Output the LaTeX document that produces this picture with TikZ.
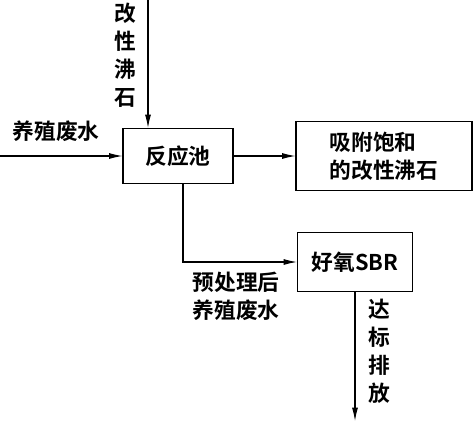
\documentclass[tikz,border=0pt]{standalone}
\usepackage{fontspec}
\setmainfont{Noto Sans CJK SC}[BoldFont={Noto Sans CJK SC Bold}]
\usetikzlibrary{positioning, arrows.meta}

\begin{document}
\begin{tikzpicture}[x=0.75pt, y=-0.75pt, >={Latex[length=10pt, width=4.5pt]},
    line width=0.8pt,
    every node/.style={font=\bfseries\fontsize{16.3}{21}\selectfont},
    unit/.style={draw, inner sep=0pt},
    lbl/.style={align=center, inner sep=0pt}]
    \useasboundingbox (0,0) rectangle (474,421);
    % units
    \node[unit, minimum width=82.5pt, minimum height=41.25pt] (react) at (178,156) {反应池\hspace{6pt}};
    \node[unit, minimum width=132pt, minimum height=51.75pt, align=left] (adsorb) at (384,156) {吸附饱和\\的改性沸石};
    \node[unit, minimum width=86.25pt, minimum height=44.25pt] (sbr) at (355,262) {好氧SBR};
    % free ends
    \coordinate (zin) at (148,0);
    \coordinate (win) at (0,156);
    \coordinate (out) at (355,421);
    % labels
    \node[lbl] (zeo) at (125,55) {改\\性\\沸\\石};
    \node[lbl] (waste) at (56,131) {养殖废水};
    \node[lbl] (pre) at (236,296) {预处理后\\养殖废水};
    \node[lbl] (disch) at (379,351) {达\\标\\排\\放};
    % flows
    \draw[->] (zin) -- (zin |- react.north);
    \draw[->] (win) -- (react.west);
    \draw[->] (react) -- (adsorb);
    \draw[->] ([xshift=3.75pt]react.south) |- (sbr.west);
    \draw[->] (sbr) -- (out);
\end{tikzpicture}
\end{document}
